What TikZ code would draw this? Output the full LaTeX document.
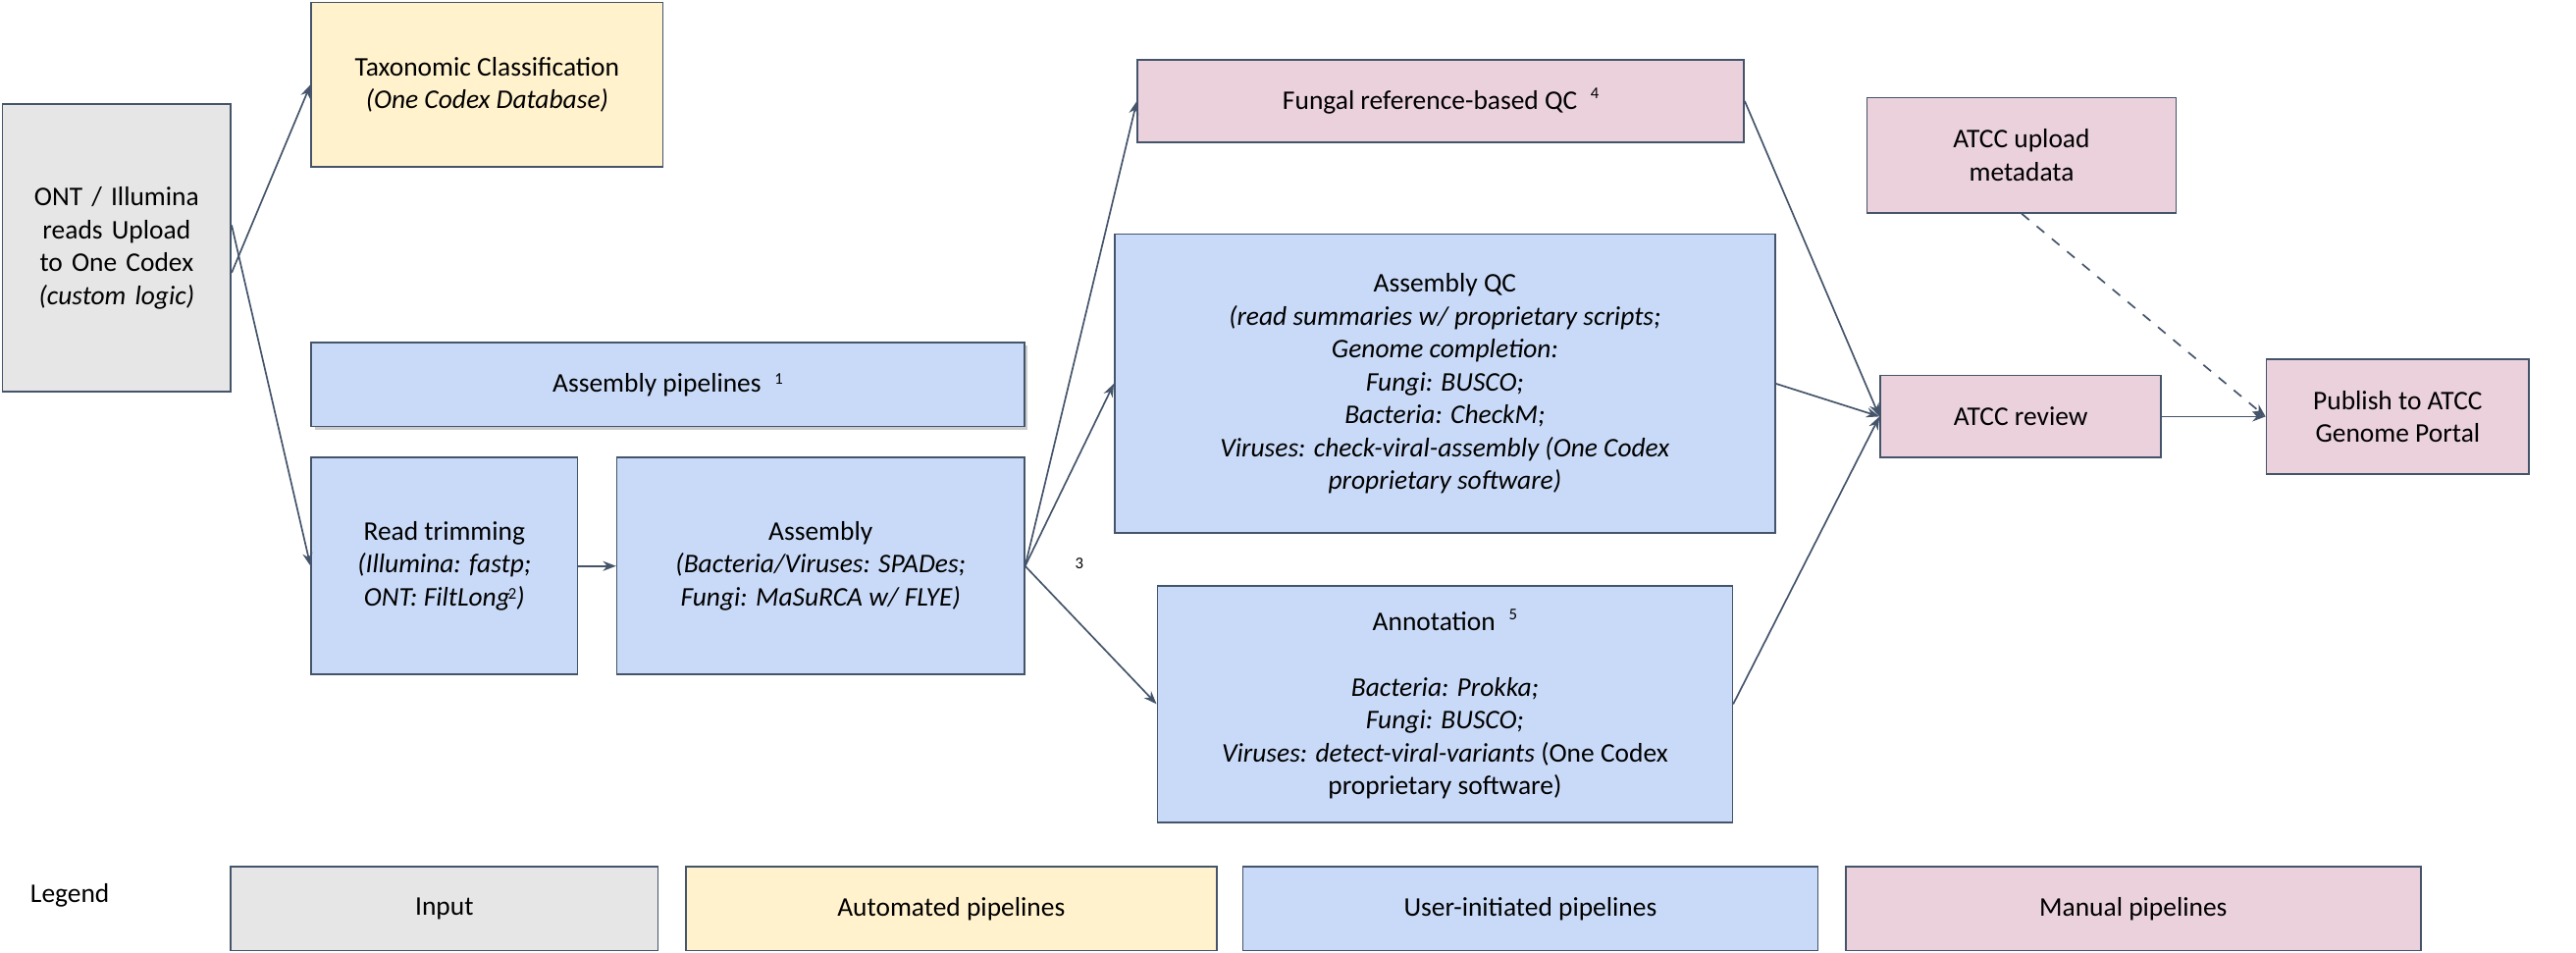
\documentclass[tikz,border=0pt]{standalone}
\usepackage{fontspec}
\setmainfont{Carlito}
\usetikzlibrary{arrows.meta,shadows}
\definecolor{ln}{HTML}{44546A}
\definecolor{gr}{HTML}{E7E6E6}
\definecolor{yl}{HTML}{FFF2CC}
\definecolor{bl}{HTML}{C9DAF8}
\definecolor{pk}{HTML}{EAD1DC}
\begin{document}
\begin{tikzpicture}[x=0.5pt,y=-0.5pt,
  box/.style={draw=ln,line width=0.5pt,align=center,inner sep=0pt,font=\fontsize{8.2}{10}\selectfont},
  arr/.style={draw=ln,line width=0.5pt,-{Stealth[length=4pt,width=3pt]}},
  sup/.style={font=\fontsize{5}{6}\selectfont}]
\useasboundingbox (0,0) rectangle (1568,580);
\newcommand{\bx}[6]{\node[box,fill=#2,minimum width=#5*0.5pt-#3*0.5pt,minimum height=(#6-#4)*0.5pt,anchor=north west] (#1) at (#3,#4) {};}
\bx{in}{gr}{1}{63}{140}{238}
\node[box,draw=none,text width=65pt] at (in.center) {ONT / Illumina\\reads Upload\\to One Codex\\\textit{(custom logic)}};
\bx{tax}{yl}{189}{1}{403}{101}
\node[box,draw=none] at (tax.center) {Taxonomic Classification\\\textit{(One Codex Database)}};
\node[box,fill=bl,minimum width=217pt,minimum height=25.5pt,anchor=north west,drop shadow={shadow xshift=1pt,shadow yshift=-1pt,opacity=0.4}] (ap) at (189,208) {Assembly pipelines\enspace\raisebox{0.6ex}{\fontsize{5}{6}\selectfont 1}};
\bx{rt}{bl}{189}{278}{351}{410}
\node[box,draw=none] at (rt.center) {Read trimming\\\textit{(Illumina: fastp;}\\\textit{ONT: FiltLong}\,\raisebox{0.5ex}{\fontsize{5}{6}\selectfont\kern-2pt 2}\textit{)}};
\bx{as}{bl}{375}{278}{623}{410}
\node[box,draw=none] at (as.center) {Assembly\\\textit{(Bacteria/Viruses: SPADes;}\\\textit{Fungi: MaSuRCA w/ FLYE)}};
\bx{fq}{pk}{692}{36}{1061}{86}
\node[box,draw=none] at (fq.center) {Fungal reference-based QC\enspace\raisebox{0.8ex}{\fontsize{5}{6}\selectfont 4}};
\bx{aq}{bl}{678}{142}{1080}{324}
\node[box,draw=none] at (aq.center) {Assembly QC\\\textit{(read summaries w/ proprietary scripts;}\\\textit{Genome completion:}\\\textit{Fungi: BUSCO;}\\\textit{Bacteria: CheckM;}\\\textit{Viruses: check-viral-assembly (One Codex}\\\textit{proprietary software)}};
\bx{an}{bl}{704}{356}{1054}{500}
\node[box,draw=none] at (an.center) {Annotation\enspace\raisebox{0.8ex}{\fontsize{5}{6}\selectfont 5}\\[10pt]\textit{Bacteria: Prokka;}\\\textit{Fungi: BUSCO;}\\\textit{Viruses: detect-viral-variants} (One Codex\\proprietary software)};
\bx{up}{pk}{1136}{59}{1324}{129}
\node[box,draw=none] at (up.center) {ATCC upload\\metadata};
\bx{rv}{pk}{1144}{228}{1315}{278}
\node[box,draw=none] at (rv.center) {ATCC review};
\bx{pb}{pk}{1379}{218}{1539}{288}
\node[box,draw=none] at (pb.center) {Publish to ATCC\\Genome Portal};
% legend
\node[box,draw=none,anchor=west] (lg) at (18,545) {Legend};
\bx{l1}{gr}{140}{527}{400}{578}\node[box,draw=none] at (l1.center) {Input};
\bx{l2}{yl}{417}{527}{740}{578}\node[box,draw=none] at (l2.center) {Automated pipelines};
\bx{l3}{bl}{756}{527}{1106}{578}\node[box,draw=none] at (l3.center) {User-initiated pipelines};
\bx{l4}{pk}{1123}{527}{1473}{578}\node[box,draw=none] at (l4.center) {Manual pipelines};
% arrows
\draw[arr] ([yshift=-7.5pt]in.east) -- (tax.west);
\draw[arr] ([yshift=7pt]in.east) -- (rt.west);
\draw[arr] (rt.east) -- (as.west);
\draw[arr] (as.east) -- (fq.west);
\draw[arr] (as.east) -- (aq.west);
\draw[arr] (as.east) -- (an.west);
\node[sup] (n3) at (657,343) {3};
\draw[arr] (fq.east) -- (rv.west);
\draw[arr] (aq.east) -- (rv.west);
\draw[arr] (an.east) -- (rv.west);
\draw[arr] (rv.east) -- (pb.west);
\draw[arr,dashed] (up.south) -- (pb.west);
\end{tikzpicture}
\end{document}
